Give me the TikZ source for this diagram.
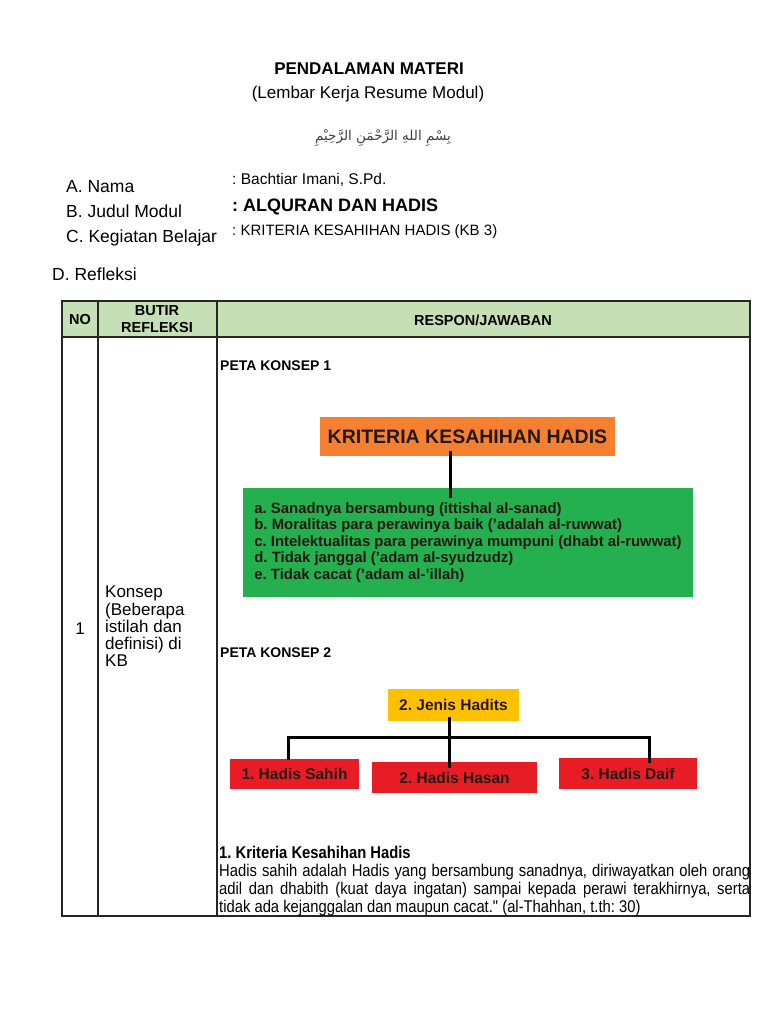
\documentclass[tikz,border=0pt]{standalone}
\usepackage{fontspec}
\setmainfont{Liberation Sans}
\newfontfamily\arabicfont[Script=Arabic]{DejaVu Sans}
\newfontfamily\narrowfont[FakeStretch=0.87]{Liberation Sans}
\TeXXeTstate=1
\frenchspacing
\definecolor{hijaumuda}{RGB}{197,224,180}
\definecolor{oranye}{RGB}{245,128,48}
\definecolor{hijau}{RGB}{36,176,78}
\definecolor{kuning}{RGB}{255,192,0}
\definecolor{merah}{RGB}{232,28,36}
\definecolor{teksgelap}{RGB}{35,25,20}

\begin{document}
\begin{tikzpicture}[x=1pt,y=-1pt,
  teks/.style={anchor=base west,inner sep=0pt},
  kepala/.style={inner sep=0pt,align=center,font=\bfseries\fontsize{14.5}{17}\selectfont},
  peta/.style={teks,font=\bfseries\fontsize{14}{16}\selectfont},
  kotak/.style={inner sep=0pt,text=teksgelap,font=\bfseries\fontsize{15.5}{18}\selectfont},
  konektor/.style={line width=3pt,black},
  garis/.style={line width=1.1pt,black!85}]
  \fill[white] (0,0) rectangle (768,1024);
  \node[inner sep=0pt,anchor=base,font=\bfseries\fontsize{17}{20}\selectfont] (judul) at (369,75) {PENDALAMAN MATERI};
  \node[inner sep=0pt,anchor=base,font=\fontsize{17}{20}\selectfont] (subjudul) at (368,99) {(Lembar Kerja Resume Modul)};
  \node[inner sep=0pt,text=black!75,font=\arabicfont\fontsize{13.5}{15}\selectfont] (basmalah) at (383,138) {\beginR بِسْمِ اللهِ الرَّحْمَنِ الرَّحِيْمِ\endR};
  \foreach \n/\t/\x/\y in {nama/A. Nama/66/193,modul/B. Judul Modul/66/218,kb/C. Kegiatan Belajar/66/243,refleksi/D. Refleksi/52/280}
    \node[teks,font=\fontsize{17.5}{20}\selectfont] (\n) at (\x,\y) {\t};
  \node[teks,font=\fontsize{15.5}{18}\selectfont] (isinama) at (232,185) {: Bachtiar Imani, S.Pd.};
  \node[teks,font=\bfseries\fontsize{18}{20}\selectfont] (isimodul) at (232,212) {: ALQURAN DAN HADIS};
  \node[teks,font=\fontsize{15}{18}\selectfont] (isikb) at (232,236) {: KRITERIA KESAHIHAN HADIS (KB 3)};

  \coordinate (T1) at (62,301);
  \coordinate (T2) at (750,916);
  \fill[hijaumuda] (T1) rectangle (750,337);
  \draw[garis] (T1) rectangle (T2);
  \draw[garis] (62,337) -- (750,337);
  \foreach \x in {98,217}
    \draw[garis] (\x,301) -- (\x,916);
  \node[kepala] (no) at (80,320) {NO};
  \node[kepala] (butir) at (157,319) {BUTIR\\REFLEKSI};
  \node[kepala] (respon) at (483,320) {RESPON/JAWABAN};
  \node[inner sep=0pt,anchor=base,font=\fontsize{17}{17}\selectfont] (nomor) at (80,634) {1};
  \node[inner sep=0pt,anchor=north west,align=left,font=\fontsize{17}{17.2}\selectfont] (konsep) at (105,586) {Konsep\\(Beberapa\\istilah dan\\definisi) di\\KB};
  \node[peta] (peta1) at (220,370) {PETA KONSEP 1};
  \node[peta] (peta2) at (220,657) {PETA KONSEP 2};

  \node[kotak,fill=oranye,minimum width=295,minimum height=39,font=\bfseries\fontsize{19.5}{22}\selectfont] (kriteria) at (467.5,436.5) {KRITERIA KESAHIHAN HADIS};
  \node[kotak,fill=hijau,minimum width=450,minimum height=109,align=left,font=\bfseries\fontsize{14.9}{16.4}\selectfont] (syarat) at (468,542.5) {a. Sanadnya bersambung (ittishal al-sanad)\\b. Moralitas para perawinya baik (’adalah al-ruwwat)\\c. Intelektualitas para perawinya mumpuni (dhabt al-ruwwat)\\d. Tidak janggal (’adam al-syudzudz)\\e. Tidak cacat (’adam al-’illah)};
  \draw[konektor] ([xshift=-17.5,yshift=5]kriteria.south) -- ([xshift=-18,yshift=-10]syarat.north);

  \node[kotak,fill=kuning,minimum width=131,minimum height=32] (jenis) at (453.5,705) {2. Jenis Hadits};
  \node[kotak,fill=merah,minimum width=129,minimum height=30] (sahih) at (294.5,774) {1. Hadis Sahih};
  \node[kotak,fill=merah,minimum width=165,minimum height=31] (hasan) at (454.5,777.5) {2. Hadis Hasan};
  \node[kotak,fill=merah,minimum width=138,minimum height=31] (daif) at (628,773.5) {3. Hadis Daif};
  \coordinate (cabang) at (449,737);
  \draw[konektor] ([xshift=-4.5,yshift=4]jenis.south) -- ([xshift=-5.5,yshift=-6]hasan.north);
  \draw[konektor] ([xshift=-6.5,yshift=-1]sahih.north) |- (cabang) -| ([xshift=21,yshift=-5]daif.north);

  \node[teks,font=\narrowfont\bfseries\fontsize{17}{18}\selectfont] (kriteria1) at (219,858) {1. Kriteria Kesahihan Hadis};
  \node[inner sep=0pt,anchor=north west,text width=531,align=justify,font=\narrowfont\fontsize{17}{18}\selectfont] (definisi) at (219,863.6) {Hadis sahih adalah Hadis yang bersambung sanadnya, diriwayatkan oleh orang\linebreak adil dan dhabith (kuat daya ingatan) sampai kepada perawi terakhirnya, serta\linebreak tidak ada kejanggalan dan maupun cacat." (al-Thahhan, t.th: 30)};
\end{tikzpicture}
\end{document}
